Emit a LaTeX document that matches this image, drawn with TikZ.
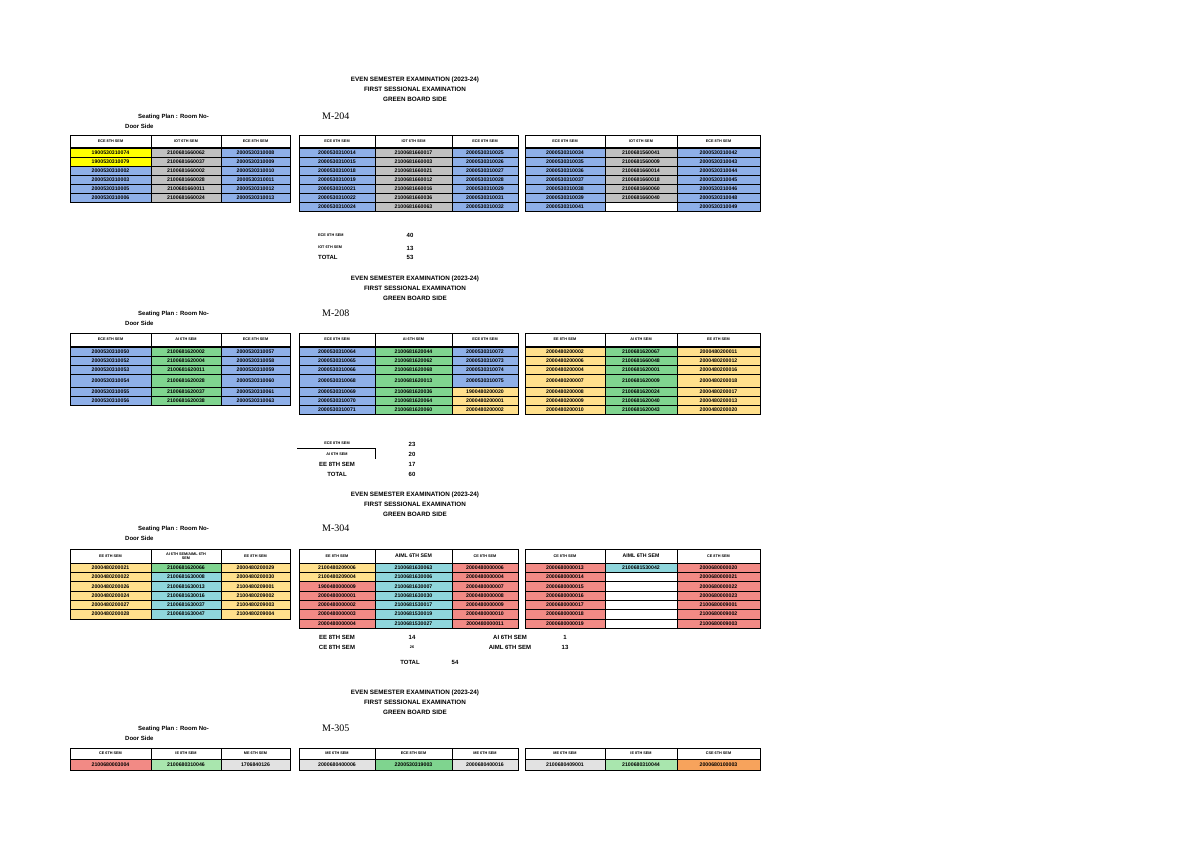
\documentclass[tikz,border=0pt]{standalone}
\usepackage{fontspec}
\setmainfont{Liberation Sans}
\newfontfamily\serifm{Liberation Serif}
\definecolor{cb}{HTML}{8EAFE8}
\definecolor{cg}{HTML}{C0C0C0}
\definecolor{cy}{HTML}{FFFF00}
\definecolor{cgr}{HTML}{7FD48F}
\definecolor{cor}{HTML}{FFE08C}
\definecolor{ccy}{HTML}{8FD6DC}
\definecolor{crd}{HTML}{F28A85}
\definecolor{clg}{HTML}{A9E6AE}
\definecolor{cl}{HTML}{E2E2E2}
\definecolor{cog}{HTML}{F7A35C}
\definecolor{cw}{HTML}{FFFFFF}
\tikzset{celltext/.style={font=\bfseries\fontsize{5.2}{5.2}\selectfont,inner sep=0pt},
 headtext/.style={font=\bfseries\fontsize{3.8}{4}\selectfont,inner sep=0pt,align=center},
 lbl/.style={font=\bfseries\fontsize{6}{6}\selectfont,inner sep=0pt},
 ttl/.style={font=\bfseries\fontsize{6.3}{6.3}\selectfont,inner sep=0pt},
 room/.style={font=\serifm\fontsize{10}{10}\selectfont,inner sep=0pt}}
\def\xlA{70}\def\xrA{151}\def\xlB{151}\def\xrB{221}\def\xlC{221}\def\xrC{290}
\def\xlD{299}\def\xrD{375}\def\xlE{375}\def\xrE{452}\def\xlF{452}\def\xrF{518}
\def\xlG{525}\def\xrG{605}\def\xlH{605}\def\xrH{677}\def\xlI{677}\def\xrI{760}
\newcommand\cc[5]{\filldraw[fill=#4,draw=black,line width=0.4pt] (\csname xl#1\endcsname,#2) rectangle (\csname xr#1\endcsname,#3);
 \node[celltext] at ({(\csname xl#1\endcsname+\csname xr#1\endcsname)/2},{(#2+#3)/2}) {#5};}
\newcommand\hd[4]{\draw[line width=0.6pt] (\csname xl#1\endcsname,#2) rectangle (\csname xr#1\endcsname,#3);
 \node[headtext] at ({(\csname xl#1\endcsname+\csname xr#1\endcsname)/2},{(#2+#3)/2}) {#4};}
\newcommand\colr[4]{\foreach \c/\t [count=\i] in {#4}{\pgfmathsetmacro\ya{#2+(\i-1)*#3}\pgfmathsetmacro\yb{#2+\i*#3}\cc{#1}{\ya}{\yb}{\c}{\t}}}
\newcommand\titles[1]{\node[ttl] at (415,#1) {EVEN SEMESTER EXAMINATION (2023-24)};
 \node[ttl] at (415,#1+9.5) {FIRST SESSIONAL EXAMINATION};
 \node[ttl] at (415,#1+19) {GREEN BOARD SIDE};}
\newcommand\seat[2]{\node[lbl,anchor=west] at (138,#1) {Seating Plan : Room No-};
 \node[lbl,anchor=west] at (125,#1+9) {Door Side};
 \node[room,anchor=west] at (322,#1-1) {#2};}
\begin{document}
\begin{tikzpicture}[x=1pt,y=-1pt]
\useasboundingbox (0,0) rectangle (1200,849);
\fill[white] (0,0) rectangle (1200,849);
% ---------- M-204
\titles{80}\seat{117}{M-204}
\foreach \k/\h in {A/ECE 8TH SEM,B/IOT 6TH SEM,C/ECE 8TH SEM,D/ECE 8TH SEM,E/IOT 6TH SEM,F/ECE 8TH SEM,G/ECE 8TH SEM,H/IOT 6TH SEM,I/ECE 8TH SEM}{\hd{\k}{135}{147}{\h}}
\colr{A}{148}{9}{cy/1900530310074,cy/1900530310079,cb/2000530310002,cb/2000530310003,cb/2000530310005,cb/2000530310006}
\colr{B}{148}{9}{cg/2100681660062,cg/2100681660037,cg/2100681660002,cg/2100681660028,cg/2100681660011,cg/2100681660024}
\colr{C}{148}{9}{cb/2000530310008,cb/2000530310009,cb/2000530310010,cb/2000530310011,cb/2000530310012,cb/2000530310013}
\colr{D}{148}{9}{cb/2000530310014,cb/2000530310015,cb/2000530310018,cb/2000530310019,cb/2000530310021,cb/2000530310022,cb/2000530310024}
\colr{E}{148}{9}{cg/2100681660017,cg/2100681660003,cg/2100681660021,cg/2100681660012,cg/2100681660016,cg/2100681660036,cg/2100681660063}
\colr{F}{148}{9}{cb/2000530310025,cb/2000530310026,cb/2000530310027,cb/2000530310028,cb/2000530310029,cb/2000530310031,cb/2000530310032}
\colr{G}{148}{9}{cb/2000530310034,cb/2000530310035,cb/2000530310036,cb/2000530310037,cb/2000530310038,cb/2000530310039,cb/2000530310041}
\colr{H}{148}{9}{cg/2100681560041,cg/2100681560009,cg/2100681660014,cg/2100681660018,cg/2100681660060,cg/2100681660040,cw/}
\colr{I}{148}{9}{cb/2000530310042,cb/2000530310043,cb/2000530310044,cb/2000530310045,cb/2000530310046,cb/2000530310048,cb/2000530310049}
\node[headtext,anchor=west] at (318,235) {ECE 8TH SEM}; \node[lbl] at (410,235) {40};
\node[headtext,anchor=west] at (318,247) {IOT 6TH SEM}; \node[lbl] at (410,248) {13};
\node[lbl,anchor=west] at (318,257) {TOTAL}; \node[lbl] at (410,257) {53};
% ---------- M-208
\titles{279}\seat{314}{M-208}
\foreach \k/\h in {A/ECE 8TH SEM,B/AI 6TH SEM,C/ECE 8TH SEM,D/ECE 8TH SEM,E/AI 6TH SEM,F/ECE 8TH SEM/EEE 8TH SEM,G/EE 8TH SEM,H/AI 6TH SEM,I/EE 8TH SEM}{\hd{\k}{333}{346}{\h}}
\foreach \k/\a/\b/\c/\d/\e/\f in {A/cb/2000530310050/2000530310052/2000530310053/2000530310054/2000530310055/2000530310056,
 B/cgr/2100681620002/2100681620004/2100681620011/2100681620028/2100681620037/2100681620038,
 C/cb/2000530310057/2000530310058/2000530310059/2000530310060/2000530310061/2000530310063}{
 \cc{\k}{347}{356}{\a}{\b}\cc{\k}{356}{365}{\a}{\c}\cc{\k}{365}{374}{\a}{\d}\cc{\k}{374}{387}{\a}{\e}\cc{\k}{387}{396}{\a}{\f}}
\cc{A}{396}{405}{cb}{2000530310056}\cc{B}{396}{405}{cgr}{2100681620038}\cc{C}{396}{405}{cb}{2000530310063}
\newcommand\rowsTwo[8]{\cc{#1}{347}{356}{#2}{#3}\cc{#1}{356}{365}{#2}{#4}\cc{#1}{365}{374}{#2}{#5}\cc{#1}{374}{387}{#2}{#6}\cc{#1}{387}{396}{#2}{#7}\cc{#1}{396}{405}{#2}{#8}}
\rowsTwo{D}{cb}{2000530310064}{2000530310065}{2000530310066}{2000530310068}{2000530310069}{2000530310070}\cc{D}{405}{414}{cb}{2000530310071}
\rowsTwo{E}{cgr}{2100681620044}{2100681620062}{2100681620068}{2100681620013}{2100681620036}{2100681620064}\cc{E}{405}{414}{cgr}{2100681620060}
\rowsTwo{F}{cb}{2000530310072}{2000530310073}{2000530310074}{2000530310075}{1900480200020}{2000480200001}\cc{F}{405}{414}{cor}{2000480200002}
\cc{F}{387}{396}{cor}{1900480200020}\cc{F}{396}{405}{cor}{2000480200001}
\rowsTwo{G}{cor}{2000480200002}{2000480200006}{2000480200004}{2000480200007}{2000480200008}{2000480200009}\cc{G}{405}{414}{cor}{2000480200010}
\rowsTwo{H}{cgr}{2100681620067}{2100681660048}{2100681620001}{2100681620009}{2100681620024}{2100681620040}\cc{H}{405}{414}{cgr}{2100681620043}
\rowsTwo{I}{cor}{2000480200011}{2000480200012}{2000480200016}{2000480200018}{2000480200017}{2000480200013}\cc{I}{405}{414}{cor}{2000480200020}
\node[headtext] at (337,443) {ECE 8TH SEM}; \node[lbl] at (412,444) {23};
\draw (297,448) -- (375,448) -- (375,459); \node[headtext] at (337,454) {AI 6TH SEM}; \node[lbl] at (412,454) {20};
\node[lbl] at (337,464) {EE 8TH SEM}; \node[lbl] at (412,464) {17};
\node[lbl] at (337,474) {TOTAL}; \node[lbl] at (412,474) {60};
% ---------- M-304
\titles{495}\seat{529}{M-304}
\foreach \k/\h in {A/EE 8TH SEM,B/{AI 6TH SEM/AIML 6TH\\SEM},C/EE 8TH SEM,D/EE 8TH SEM/CE 8TH SEM,G/CE 8TH SEM,I/CE 8TH SEM,F/CE 8TH SEM}{\hd{\k}{549}{563}{\h}}
\hd{E}{549}{563}{\fontsize{5.2}{5.2}\selectfont AIML 6TH SEM}\hd{H}{549}{563}{\fontsize{5.2}{5.2}\selectfont AIML 6TH SEM}
\colr{A}{563}{9.3}{cor/2000480200021,cor/2000480200022,cor/2000480200026,cor/2000480200024,cor/2000480200027,cor/2000480200028}
\colr{B}{563}{9.3}{cgr/2100681620066,ccy/2100681630008,ccy/2100681630013,ccy/2100681630016,ccy/2100681630037,ccy/2100681630047}
\colr{C}{563}{9.3}{cor/2000480200029,cor/2000480200030,cor/2100480209001,cor/2100480209002,cor/2100480209003,cor/2100480209004}
\colr{D}{563}{9.3}{cor/2100480209006,cor/2100480209004,crd/1900480000009,crd/2000480000001,crd/2000480000002,crd/2000480000003,crd/2000480000004}
\colr{E}{563}{9.3}{ccy/2100681630063,ccy/2100681630006,ccy/2100681630007,ccy/2100681630030,ccy/2100681530017,ccy/2100681530019,ccy/2100681530027}
\colr{F}{563}{9.3}{crd/2000480000006,crd/2000480000004,crd/2000480000007,crd/2000480000008,crd/2000480000009,crd/2000480000010,crd/2000480000011}
\colr{G}{563}{9.3}{crd/2000680000013,crd/2000680000014,crd/2000680000015,crd/2000680000016,crd/2000680000017,crd/2000680000018,crd/2000680000019}
\colr{H}{563}{9.3}{ccy/2100681530042,cw/,cw/,cw/,cw/,cw/,cw/}
\colr{I}{563}{9.3}{crd/2000680000020,crd/2000680000021,crd/2000680000022,crd/2000680000023,crd/2100680009001,crd/2100680009002,crd/2100680009003}
\node[lbl] at (337,637) {EE 8TH SEM}; \node[lbl] at (412,637) {14};
\node[lbl] at (510,637) {AI 6TH SEM}; \node[lbl] at (565,637) {1};
\node[lbl] at (337,647) {CE 8TH SEM}; \node[headtext] at (412,647) {26};
\node[lbl] at (510,647) {AIML 6TH SEM}; \node[lbl] at (565,647) {13};
\node[lbl] at (410,662) {TOTAL}; \node[lbl] at (455,662) {54};
% ---------- M-305
\titles{693}\seat{729}{M-305}
\foreach \k/\h in {A/CE 6TH SEM/ME 6TH SEM,B/IE 8TH SEM,C/ME 6TH SEM,D/ME 6TH SEM,E/ECE 8TH SEM,F/ME 6TH SEM,G/ME 6TH SEM/CSE 6TH SEM,H/IE 8TH SEM,I/CSE 6TH SEM}{\hd{\k}{748}{759}{\h}}
\cc{A}{759}{770}{crd}{2100680003004}\cc{B}{759}{770}{clg}{2100680310046}\cc{C}{759}{770}{cl}{1706840126}
\cc{D}{759}{770}{cl}{2000680400006}\cc{E}{759}{770}{cgr}{2200530319003}\cc{F}{759}{770}{cl}{2000680400016}
\cc{G}{759}{770}{cl}{2100680409001}\cc{H}{759}{770}{clg}{2100680310044}\cc{I}{759}{770}{cog}{2000680100003}
\end{tikzpicture}
\end{document}
